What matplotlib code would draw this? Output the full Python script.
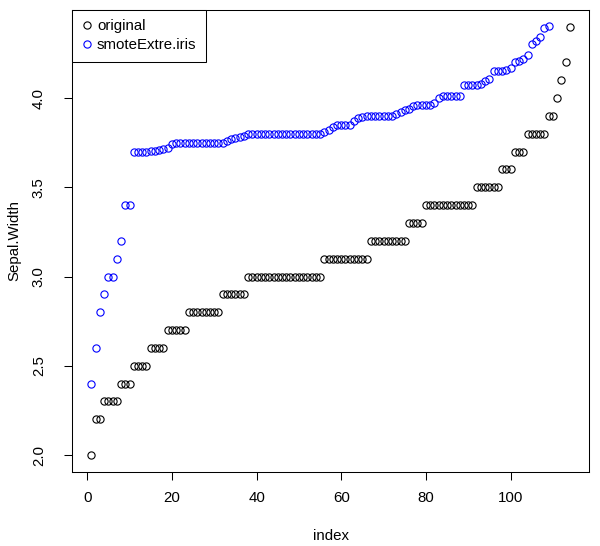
import numpy as np
import matplotlib
matplotlib.use("Agg")
import matplotlib.pyplot as plt

plt.rcParams['font.family'] = ['Liberation Sans', 'DejaVu Sans']

# sorted Sepal.Width of the original data (value, how many times)
orig_vals = [2.0, 2.2, 2.3, 2.4, 2.5, 2.6, 2.7, 2.8, 2.9, 3.0, 3.1, 3.2,
             3.3, 3.4, 3.5, 3.6, 3.7, 3.8, 3.9, 4.0, 4.1, 4.2, 4.4]
orig_counts = [1, 2, 4, 3, 4, 4, 5, 8, 6, 18, 11, 9,
               4, 12, 6, 3, 3, 5, 2, 1, 1, 1, 1]

# sorted Sepal.Width after smoteExtre
smote_vals = [2.40, 2.60, 2.80, 2.90, 3.00, 3.00, 3.10, 3.20, 3.40, 3.40,
              3.700, 3.700, 3.700, 3.700, 3.702, 3.705, 3.710, 3.715, 3.720,
              3.740, 3.75, 3.75, 3.75, 3.75, 3.75, 3.75, 3.75, 3.75, 3.75,
              3.75, 3.75, 3.75, 3.760, 3.770, 3.775, 3.780, 3.790,
              3.80, 3.80, 3.80, 3.80, 3.80, 3.80, 3.80, 3.80, 3.80,
              3.80, 3.80, 3.80, 3.80, 3.80, 3.80, 3.80, 3.80, 3.80,
              3.81, 3.82, 3.84, 3.85, 3.85, 3.85, 3.85, 3.87, 3.89, 3.895,
              3.90, 3.90, 3.90, 3.90, 3.90, 3.90, 3.90,
              3.91, 3.92, 3.935, 3.94, 3.955, 3.96, 3.96, 3.96, 3.96,
              3.97, 4.00, 4.01, 4.01, 4.01, 4.01, 4.01,
              4.075, 4.075, 4.075, 4.075, 4.08, 4.095, 4.105,
              4.15, 4.15, 4.15, 4.155, 4.17, 4.20, 4.21, 4.22, 4.24,
              4.305, 4.32, 4.34, 4.395, 4.405]

original = np.repeat(orig_vals, orig_counts)
smote = np.array(smote_vals)

fig = plt.figure(figsize=(6, 5.46), dpi=100)
ax = fig.add_axes([0.1205, 0.1352, 0.8612, 0.8474])

ax.plot(np.arange(1, len(original) + 1), original, 'o', mfc='none',
        mec='black', ms=5.2, mew=0.8, label='original')
ax.plot(np.arange(1, len(smote) + 1), smote, 'o', mfc='none',
        mec='#0000FF', ms=5.2, mew=0.8, label='smoteExtre.iris')

n = len(original)
ax.set_xlim(1 - 0.04 * (n - 1), n + 0.04 * (n - 1))
ax.set_ylim(2.0 - 0.04 * 2.4, 4.4 + 0.04 * 2.4)

ax.set_xticks([0, 20, 40, 60, 80, 100])
ax.set_yticks([2.0, 2.5, 3.0, 3.5, 4.0])
ax.set_yticklabels(['2.0', '2.5', '3.0', '3.5', '4.0'], rotation=90, va='center')
ax.tick_params(axis='both', direction='out', length=6, width=0.75,
               labelsize=10.8, color='black')
ax.tick_params(axis='x', pad=7.5)
ax.tick_params(axis='y', pad=13)

for s in ax.spines.values():
    s.set_linewidth(0.75)
    s.set_color('black')

ax.set_xlabel('index', fontsize=10.8)
ax.set_ylabel('Sepal.Width', fontsize=10.8)
ax.xaxis.set_label_coords(0.5, -0.138)
ax.yaxis.set_label_coords(-0.113, 0.5)
ax.xaxis.label.set_va('center')
ax.yaxis.label.set_va('center')

leg = ax.legend(loc='upper left', borderaxespad=0, fontsize=10.8,
                fancybox=False, framealpha=1, edgecolor='black',
                handlelength=0.7, handletextpad=0.3, labelspacing=0.3,
                borderpad=0.65)
leg.get_frame().set_linewidth(0.75)

fig.savefig('out.png', dpi=100)
